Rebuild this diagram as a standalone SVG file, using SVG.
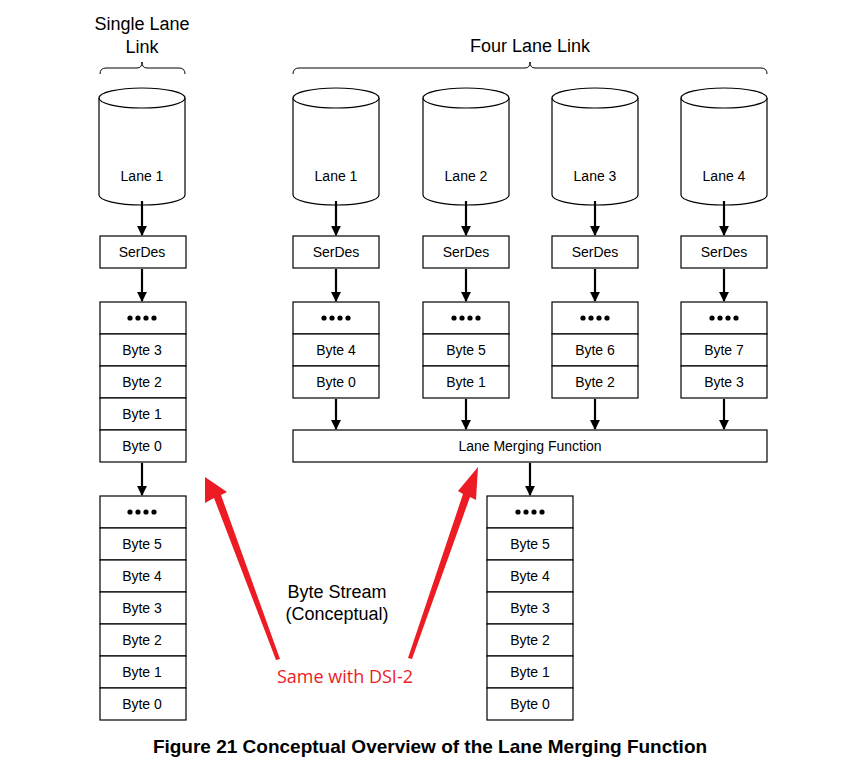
<svg xmlns="http://www.w3.org/2000/svg" width="856" height="778" viewBox="0 0 856 778">
<style>
text{font-family:"Liberation Sans",Arial,sans-serif;fill:#000}
.t{font-size:14px;text-anchor:middle}
.b{fill:#fff;stroke:#000;stroke-width:1.2}
.c{stroke:#000;stroke-width:2.2;fill:none}
.br{fill:none;stroke:#000;stroke-width:1}
</style>
<defs>
<marker id="ah" viewBox="0 0 10 10" refX="9" refY="5" markerWidth="4.5" markerHeight="4.5" orient="auto"><path d="M0,0L10,5L0,10z" fill="#000"/></marker>
<g id="dots"><circle cx="-12" cy="0" r="2.6"/><circle cx="-4" cy="0" r="2.6"/><circle cx="4" cy="0" r="2.6"/><circle cx="12" cy="0" r="2.6"/></g>
<g id="cyl"><path class="b" d="M-43,-97V0A43,10 0 0 0 43,0V-97"/><ellipse class="b" cx="0" cy="-97" rx="43" ry="10"/></g>
</defs>
<text class="t" x="142" y="30" style="font-size:18px">Single Lane</text>
<text class="t" x="142" y="53" style="font-size:18px">Link</text>
<text class="t" x="530" y="52" style="font-size:18px">Four Lane Link</text>
<path class="br" d="M100,74Q100,68 106,68H137Q142,68 142,62Q142,68 147,68H179Q185,68 185,74"/>
<path class="br" d="M293,74Q293,68 299,68H525Q530,68 530,62Q530,68 535,68H761Q767,68 767,74"/>
<g id="single">
<use href="#cyl" x="142" y="195"/><text class="t" x="142" y="181">Lane 1</text>
<rect class="b" x="100" y="236" width="86" height="32"/><text class="t" x="142" y="257">SerDes</text>
<rect class="b" x="100" y="302" width="86" height="32"/><use href="#dots" x="142" y="318"/>
<rect class="b" x="100" y="334" width="86" height="32"/><text class="t" x="142" y="355">Byte 3</text>
<rect class="b" x="100" y="366" width="86" height="32"/><text class="t" x="142" y="387">Byte 2</text>
<rect class="b" x="100" y="398" width="86" height="32"/><text class="t" x="142" y="419">Byte 1</text>
<rect class="b" x="100" y="430" width="86" height="32"/><text class="t" x="142" y="451">Byte 0</text>
</g>
<g id="lanes">
<use href="#cyl" x="336" y="195"/><text class="t" x="336" y="181">Lane 1</text>
<use href="#cyl" x="466" y="195"/><text class="t" x="466" y="181">Lane 2</text>
<use href="#cyl" x="595" y="195"/><text class="t" x="595" y="181">Lane 3</text>
<use href="#cyl" x="724" y="195"/><text class="t" x="724" y="181">Lane 4</text>
<rect class="b" x="293" y="236" width="86" height="32"/><text class="t" x="336" y="257">SerDes</text>
<rect class="b" x="423" y="236" width="86" height="32"/><text class="t" x="466" y="257">SerDes</text>
<rect class="b" x="552" y="236" width="86" height="32"/><text class="t" x="595" y="257">SerDes</text>
<rect class="b" x="681" y="236" width="86" height="32"/><text class="t" x="724" y="257">SerDes</text>
<rect class="b" x="293" y="302" width="86" height="32"/><use href="#dots" x="336" y="318"/>
<rect class="b" x="423" y="302" width="86" height="32"/><use href="#dots" x="466" y="318"/>
<rect class="b" x="552" y="302" width="86" height="32"/><use href="#dots" x="595" y="318"/>
<rect class="b" x="681" y="302" width="86" height="32"/><use href="#dots" x="724" y="318"/>
<rect class="b" x="293" y="334" width="86" height="32"/><text class="t" x="336" y="355">Byte 4</text>
<rect class="b" x="423" y="334" width="86" height="32"/><text class="t" x="466" y="355">Byte 5</text>
<rect class="b" x="552" y="334" width="86" height="32"/><text class="t" x="595" y="355">Byte 6</text>
<rect class="b" x="681" y="334" width="86" height="32"/><text class="t" x="724" y="355">Byte 7</text>
<rect class="b" x="293" y="366" width="86" height="32"/><text class="t" x="336" y="387">Byte 0</text>
<rect class="b" x="423" y="366" width="86" height="32"/><text class="t" x="466" y="387">Byte 1</text>
<rect class="b" x="552" y="366" width="86" height="32"/><text class="t" x="595" y="387">Byte 2</text>
<rect class="b" x="681" y="366" width="86" height="32"/><text class="t" x="724" y="387">Byte 3</text>
</g>
<g id="merge"><rect class="b" x="293" y="430" width="474" height="32"/><text class="t" x="530" y="451">Lane Merging Function</text></g>
<g id="out1">
<rect class="b" x="100" y="496" width="86" height="32"/><use href="#dots" x="142" y="512"/>
<rect class="b" x="100" y="528" width="86" height="32"/><text class="t" x="142" y="549">Byte 5</text>
<rect class="b" x="100" y="560" width="86" height="32"/><text class="t" x="142" y="581">Byte 4</text>
<rect class="b" x="100" y="592" width="86" height="32"/><text class="t" x="142" y="613">Byte 3</text>
<rect class="b" x="100" y="624" width="86" height="32"/><text class="t" x="142" y="645">Byte 2</text>
<rect class="b" x="100" y="656" width="86" height="32"/><text class="t" x="142" y="677">Byte 1</text>
<rect class="b" x="100" y="688" width="86" height="32"/><text class="t" x="142" y="709">Byte 0</text>
</g>
<g id="out4">
<rect class="b" x="487" y="496" width="86" height="32"/><use href="#dots" x="530" y="512"/>
<rect class="b" x="487" y="528" width="86" height="32"/><text class="t" x="530" y="549">Byte 5</text>
<rect class="b" x="487" y="560" width="86" height="32"/><text class="t" x="530" y="581">Byte 4</text>
<rect class="b" x="487" y="592" width="86" height="32"/><text class="t" x="530" y="613">Byte 3</text>
<rect class="b" x="487" y="624" width="86" height="32"/><text class="t" x="530" y="645">Byte 2</text>
<rect class="b" x="487" y="656" width="86" height="32"/><text class="t" x="530" y="677">Byte 1</text>
<rect class="b" x="487" y="688" width="86" height="32"/><text class="t" x="530" y="709">Byte 0</text>
</g>
<g id="connectors" marker-end="url(#ah)">
<path class="c" d="M142,201V235"/><path class="c" d="M142,269V301"/><path class="c" d="M142,463V495"/>
<path class="c" d="M336,201V235"/><path class="c" d="M466,201V235"/><path class="c" d="M595,201V235"/><path class="c" d="M724,201V235"/>
<path class="c" d="M336,269V301"/><path class="c" d="M466,269V301"/><path class="c" d="M595,269V301"/><path class="c" d="M724,269V301"/>
<path class="c" d="M336,399V429"/><path class="c" d="M466,399V429"/><path class="c" d="M595,399V429"/><path class="c" d="M724,399V429"/>
<path class="c" d="M530,463V495"/>
</g>
<text class="t" x="337" y="598" style="font-size:18px">Byte Stream</text>
<text class="t" x="337" y="620" style="font-size:18px">(Conceptual)</text>
<g id="annot" fill="#ed1c24">
<polygon points="276,660 280,659 221,495 227,492 205,477 205,503 214,498"/>
<polygon points="408,658 412,659 470,497 476,500 478,467 458,491 463,494"/>
<text x="345" y="683" style="font-size:18px;text-anchor:middle;fill:#ed1c24;font-family:'Open Sans','Liberation Sans',sans-serif">Same with DSI-2</text>
</g>
<text x="430" y="753" style="font-size:19px;font-weight:bold;text-anchor:middle">Figure 21 Conceptual Overview of the Lane Merging Function</text>
</svg>
